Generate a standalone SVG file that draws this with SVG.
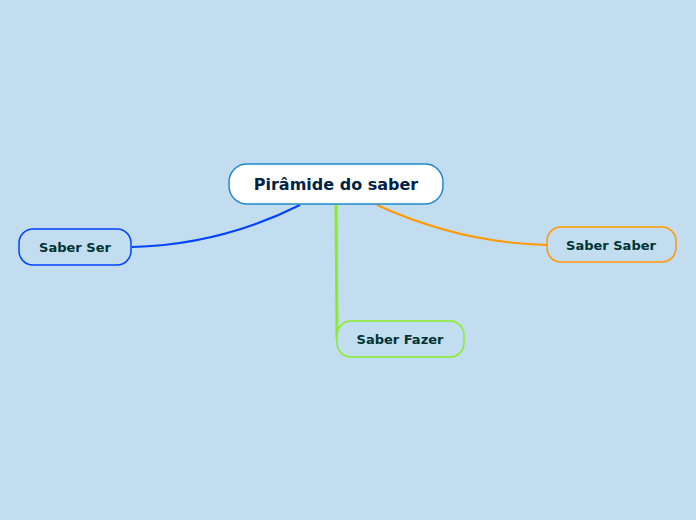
<svg xmlns="http://www.w3.org/2000/svg" width="696" height="520" viewBox="0 0 696 520">
<style>
text{font-family:"DejaVu Sans",Verdana,sans-serif;font-weight:bold;text-anchor:middle}
.sub{font-size:13px;fill:#003333}
</style>
<rect width="696" height="520" fill="#c3ddf0"/>
<g id="connectors" fill="none">
<path d="M300,205 Q220,245 132,247" stroke="#0044ff" stroke-width="2"/>
<path d="M336,205 L337,339" stroke="#88ee22" stroke-width="3"/>
<path d="M377,205 Q460,243 547,245" stroke="#ff9900" stroke-width="2"/>
</g>
<g id="root"><rect x="229" y="164" width="214" height="40" rx="18" fill="#fff" stroke="#2288cc" stroke-width="1.5"/><text x="336" y="190" font-size="16" fill="#002244">Pirâmide do saber</text></g>
<g id="ser"><rect x="19" y="229" width="112" height="36" rx="14" fill="#c3ddf0" stroke="#0044ff" stroke-width="1.5"/><text class="sub" x="75" y="252">Saber Ser</text></g>
<g id="fazer"><rect x="337" y="321" width="127" height="36" rx="14" fill="#c3ddf0" stroke="#88ee22" stroke-width="1.5"/><text class="sub" x="400" y="344">Saber Fazer</text></g>
<g id="saber"><rect x="547" y="227" width="129" height="35" rx="14" fill="#c3ddf0" stroke="#ff9900" stroke-width="1.5"/><text class="sub" x="611" y="250">Saber Saber</text></g>
</svg>
